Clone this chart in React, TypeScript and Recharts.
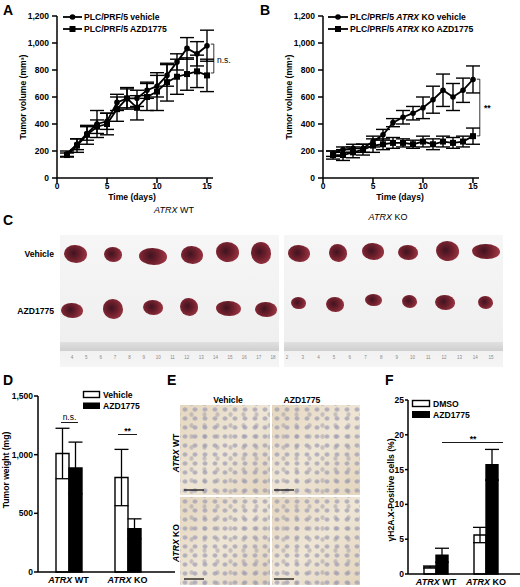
import React from "react";
import { LineChart, Line, BarChart, Bar, XAxis, YAxis, ErrorBar, ReferenceLine } from "recharts";

// Tumor growth curves (mean ± SEM), days 1..15
const DAYS = [1, 2, 3, 4, 5, 6, 7, 8, 9, 10, 11, 12, 13, 14, 15];

const WT_VEHICLE = [180, 250, 330, 400, 420, 560, 590, 590, 650, 680, 760, 860, 960, 920, 980];
const WT_VEHICLE_SEM = [20, 40, 50, 100, 60, 60, 80, 60, 60, 80, 80, 60, 80, 90, 115];
const WT_AZD = [170, 240, 320, 380, 400, 510, 590, 520, 600, 640, 710, 750, 770, 790, 760];
const WT_AZD_SEM = [15, 50, 70, 50, 80, 90, 70, 90, 100, 140, 140, 130, 120, 120, 120];

const KO_VEHICLE = [180, 210, 220, 220, 270, 320, 410, 450, 480, 520, 580, 650, 600, 650, 730];
const KO_VEHICLE_SEM = [20, 20, 30, 30, 40, 40, 30, 50, 50, 80, 100, 120, 100, 90, 100];
const KO_AZD = [170, 170, 190, 210, 240, 250, 260, 260, 250, 270, 250, 270, 260, 270, 310];
const KO_AZD_SEM = [30, 40, 40, 40, 50, 40, 40, 30, 30, 40, 40, 40, 40, 40, 60];

// Tumor weight (mg)
const GROUPS = ["ATRX WT", "ATRX KO"];
const WEIGHT_VEHICLE = [1010, 805];
const WEIGHT_VEHICLE_SEM = [215, 240];
const WEIGHT_AZD = [887, 368];
const WEIGHT_AZD_SEM = [220, 85];

// gammaH2A.X positive cells (%)
const H2AX_DMSO = [1.0, 5.6];
const H2AX_DMSO_SEM = [0.15, 1.1];
const H2AX_AZD = [2.7, 15.7];
const H2AX_AZD_SEM = [1.0, 2.2];

const VOLUME_TICKS = [0, 200, 400, 600, 800, 1000, 1200];
const DAY_TICKS = [0, 5, 10, 15];
const WEIGHT_TICKS = [0, 500, 1000, 1500];
const H2AX_TICKS = [0, 5, 10, 15, 20, 25];

const FONT = "'Liberation Sans', Arial, sans-serif";
const tickStyle = { fill: "#000", fontSize: 8.5, fontWeight: 700, fontFamily: FONT };

const growthA = DAYS.map((d, i) => ({
  day: d,
  veh: WT_VEHICLE[i],
  vehErr: WT_VEHICLE_SEM[i],
  azd: WT_AZD[i],
  azdErr: WT_AZD_SEM[i],
}));
const growthB = DAYS.map((d, i) => ({
  day: d,
  veh: KO_VEHICLE[i],
  vehErr: KO_VEHICLE_SEM[i],
  azd: KO_AZD[i],
  azdErr: KO_AZD_SEM[i],
}));
const weightData = GROUPS.map((g, i) => ({
  group: g,
  veh: WEIGHT_VEHICLE[i],
  vehErr: WEIGHT_VEHICLE_SEM[i],
  azd: WEIGHT_AZD[i],
  azdErr: WEIGHT_AZD_SEM[i],
}));
const h2axData = GROUPS.map((g, i) => ({
  group: g,
  dmso: H2AX_DMSO[i],
  dmsoErr: H2AX_DMSO_SEM[i],
  azd: H2AX_AZD[i],
  azdErr: H2AX_AZD_SEM[i],
}));

const circleDot = (p: any) =>
  p.cx == null ? null : <circle key={`c${p.index}`} cx={p.cx} cy={p.cy} r={2.8} fill="#000" />;
const squareDot = (p: any) =>
  p.cx == null ? null : (
    <rect key={`s${p.index}`} x={p.cx - 3} y={p.cy - 3} width={6} height={6} fill="#000" />
  );

const fmt = (v: number) => v.toLocaleString("en-US");

const CatTick = (p: any) => {
  const [gene, kind] = String(p.payload.value).split(" ");
  return (
    <text x={p.x} y={p.y} dy="0.71em" textAnchor="middle" {...tickStyle} fontSize={9}>
      <tspan fontStyle="italic">{gene}</tspan>
      {" " + kind}
    </text>
  );
};

function Growth({ data, left, bracket }: { data: any[]; left: number; bracket: [number, number] }) {
  const bx = 15.68;
  const bx0 = 15.38;
  return (
    <div style={{ position: "absolute", left, top: 0 }}>
      <LineChart width={260} height={210} data={data} margin={{ top: 16, right: 47, bottom: 12, left: 27 }}>
        <XAxis
          dataKey="day"
          type="number"
          domain={[0, 15.6]}
          ticks={DAY_TICKS}
          interval={0}
          allowDataOverflow
          height={20}
          tickSize={5}
          tickMargin={0}
          stroke="#000"
          strokeWidth={1.5}
          tick={tickStyle}
        />
        <YAxis
          domain={[0, 1200]}
          ticks={VOLUME_TICKS}
          interval={0}
          tickFormatter={fmt}
          width={30}
          tickSize={5}
          tickMargin={3}
          stroke="#000"
          strokeWidth={1.5}
          tick={tickStyle}
        />
        <Line dataKey="veh" stroke="#000" strokeWidth={1.8} dot={circleDot} isAnimationActive={false}>
          <ErrorBar dataKey="vehErr" direction="y" width={7} stroke="#000" strokeWidth={1.4} />
        </Line>
        <Line dataKey="azd" stroke="#000" strokeWidth={1.8} dot={squareDot} isAnimationActive={false}>
          <ErrorBar dataKey="azdErr" direction="y" width={7} stroke="#000" strokeWidth={1.4} />
        </Line>
        <ReferenceLine segment={[{ x: bx, y: bracket[0] }, { x: bx, y: bracket[1] }]} ifOverflow="visible" stroke="#000" strokeWidth={0.8} />
        <ReferenceLine segment={[{ x: bx0, y: bracket[0] }, { x: bx, y: bracket[0] }]} ifOverflow="visible" stroke="#000" strokeWidth={0.8} />
        <ReferenceLine segment={[{ x: bx0, y: bracket[1] }, { x: bx, y: bracket[1] }]} ifOverflow="visible" stroke="#000" strokeWidth={0.8} />
      </LineChart>
    </div>
  );
}

// photo panel C: tumor outlines (centre x, centre y, width, height)
const TUMORS = [
  [75, 254, 23, 18], [113, 254, 18, 15], [153, 256, 28, 17], [192, 255, 22, 18], [227, 252, 23, 20], [261, 253, 20, 22],
  [72, 310, 22, 15], [113, 309, 20, 20], [153, 307, 20, 15], [189, 307, 18, 18], [228, 308, 25, 15], [266, 309, 22, 15],
  [299, 253, 22, 17], [338, 253, 18, 18], [373, 251, 22, 17], [408, 252, 20, 15], [447, 251, 23, 20], [486, 251, 28, 15],
  [298, 303, 15, 12], [335, 304, 18, 15], [373, 300, 17, 12], [409, 301, 15, 13], [445, 302, 20, 15], [485, 302, 15, 13],
];
const RULER_LEFT = ["4", "5", "6", "7", "8", "9", "10", "11", "12", "13", "14", "15", "16", "17", "18"];
const RULER_RIGHT = ["2", "3", "4", "5", "6", "7", "8", "9", "10", "11", "12", "13", "14", "15"];

const tissue = {
  position: "absolute" as const,
  backgroundColor: "#eadfcb",
  backgroundImage:
    "radial-gradient(ellipse 3px 2.6px at 50% 50%, rgba(150,150,175,0.75) 0, rgba(150,150,175,0.55) 70%, rgba(150,150,175,0) 100%), radial-gradient(ellipse 2.6px 3px at 50% 50%, rgba(160,155,170,0.6) 0, rgba(160,155,170,0.4) 70%, rgba(0,0,0,0) 100%), linear-gradient(135deg, rgba(220,200,170,0.35), rgba(255,255,255,0.2) 50%, rgba(215,195,165,0.35))",
  backgroundSize: "10px 9px, 13px 11px, 100% 100%",
  backgroundPosition: "0 0, 5px 4px, 0 0",
};

export default function App() {
  const T = { fontFamily: FONT, fill: "#000" };
  return (
    <div style={{ position: "relative", width: 520, height: 587, background: "#fff", fontFamily: FONT, overflow: "hidden" }}>
      <style>{`body{margin:0}`}</style>

      <Growth data={growthA} left={0} bracket={[992, 778]} />
      <Growth data={growthB} left={266} bracket={[732, 312]} />

      {/* photos C */}
      {[60, 284].map((x) => (
        <div key={x} style={{ position: "absolute", left: x, top: 235, width: 219, height: 132, background: "linear-gradient(180deg,#f6f6f6,#efefef 80%,#f5f5f5)" }}>
          <div style={{ position: "absolute", left: 0, right: 0, top: 107, height: 9, background: "linear-gradient(180deg,#e0e0e0,#cfcfcf)" }} />
        </div>
      ))}
      {TUMORS.map(([x, y, w, h], i) => (
        <div
          key={i}
          style={{
            position: "absolute",
            left: x - w / 2,
            top: y - h / 2,
            width: w,
            height: h,
            borderRadius: "48% 52% 46% 54%",
            background: "radial-gradient(circle at 42% 45%, #3f1420 0%, #6e1f2c 40%, #9a3542 80%, #b2525c 100%)",
          }}
        />
      ))}

      {/* IHC E */}
      <div style={{ ...tissue, left: 180, top: 405, width: 90, height: 90 }} />
      <div style={{ ...tissue, left: 272, top: 405, width: 88, height: 90 }} />
      <div style={{ ...tissue, left: 180, top: 497, width: 90, height: 88 }} />
      <div style={{ ...tissue, left: 272, top: 497, width: 88, height: 88 }} />

      <div style={{ position: "absolute", left: 0, top: 380 }}>
        <BarChart width={180} height={207} data={weightData} margin={{ top: 16, right: 5, bottom: 0, left: 8 }} barGap={0} barSize={13}>
          <XAxis dataKey="group" interval={0} height={15} padding={{ left: 1, right: 18 }} tickLine={false} tickSize={4} tickMargin={1} stroke="#000" strokeWidth={1.5} tick={<CatTick />} />
          <YAxis domain={[0, 1500]} ticks={WEIGHT_TICKS} interval={0} tickFormatter={fmt} width={30} tickSize={4} tickMargin={1} stroke="#000" strokeWidth={1.5} tick={tickStyle} />
          <Bar dataKey="veh" fill="#fff" stroke="#000" strokeWidth={1.4} isAnimationActive={false}>
            <ErrorBar dataKey="vehErr" direction="y" width={7} stroke="#000" strokeWidth={1.3} />
          </Bar>
          <Bar dataKey="azd" fill="#000" stroke="#000" strokeWidth={1.4} isAnimationActive={false}>
            <ErrorBar dataKey="azdErr" direction="y" width={7} stroke="#000" strokeWidth={1.3} />
          </Bar>
        </BarChart>
      </div>

      <div style={{ position: "absolute", left: 350, top: 380 }}>
        <BarChart width={170} height={207} data={h2axData} margin={{ top: 20, right: 0, bottom: 0, left: 30 }} barGap={0} barSize={12}>
          <XAxis dataKey="group" interval={0} height={13} padding={{ left: 3, right: 9 }} tickLine={false} tickSize={4} tickMargin={1} stroke="#000" strokeWidth={1.5} tick={<CatTick />} />
          <YAxis domain={[0, 25]} ticks={H2AX_TICKS} interval={0} width={28} tickSize={3} tickMargin={1} stroke="#000" strokeWidth={1.5} tick={tickStyle} />
          <Bar dataKey="dmso" fill="#fff" stroke="#000" strokeWidth={1.4} isAnimationActive={false}>
            <ErrorBar dataKey="dmsoErr" direction="y" width={7} stroke="#000" strokeWidth={1.3} />
          </Bar>
          <Bar dataKey="azd" fill="#000" stroke="#000" strokeWidth={1.4} isAnimationActive={false}>
            <ErrorBar dataKey="azdErr" direction="y" width={7} stroke="#000" strokeWidth={1.3} />
          </Bar>
        </BarChart>
      </div>

      <svg width={520} height={587} style={{ position: "absolute", left: 0, top: 0, pointerEvents: "none" }}>
        {/* panel letters */}
        <g {...T} fontSize={14} fontWeight={700}>
          <text x={3} y={15}>A</text>
          <text x={260} y={15}>B</text>
          <text x={3} y={225}>C</text>
          <text x={3} y={385}>D</text>
          <text x={167} y={385}>E</text>
          <text x={385} y={385}>F</text>
        </g>

        {/* A / B legends and titles */}
        <g {...T} fontSize={8.6} fontWeight={700}>
          <line x1={63} x2={82} y1={17} y2={17} stroke="#000" strokeWidth={1.8} />
          <circle cx={72.5} cy={17} r={2.8} />
          <text x={84} y={20}>PLC/PRF/5 vehicle</text>
          <line x1={63} x2={82} y1={29} y2={29} stroke="#000" strokeWidth={1.8} />
          <rect x={69.5} y={26} width={6} height={6} />
          <text x={84} y={32}>PLC/PRF/5 AZD1775</text>

          <line x1={328} x2={348} y1={17} y2={17} stroke="#000" strokeWidth={1.8} />
          <circle cx={338} cy={17} r={2.8} />
          <text x={350} y={20}>PLC/PRF/5 <tspan fontStyle="italic">ATRX</tspan> KO vehicle</text>
          <line x1={328} x2={348} y1={29} y2={29} stroke="#000" strokeWidth={1.8} />
          <rect x={335} y={26} width={6} height={6} />
          <text x={350} y={32}>PLC/PRF/5 <tspan fontStyle="italic">ATRX</tspan> KO AZD1775</text>

          <text x={132} y={200} textAnchor="middle">Time (days)</text>
          <text x={400} y={200} textAnchor="middle">Time (days)</text>
          <text transform="translate(26,97) rotate(-90)" textAnchor="middle">Tumor volume (mm³)</text>
          <text transform="translate(291.5,97) rotate(-90)" textAnchor="middle">Tumor volume (mm³)</text>
        </g>
        <text {...T} x={217} y={63} fontSize={8.5}>n.s.</text>
        <text {...T} x={484} y={111} fontSize={8.5} fontWeight={700}>**</text>

        {/* C labels */}
        <text {...T} x={174} y={213} fontSize={9} textAnchor="middle">
          <tspan fontStyle="italic">ATRX</tspan> WT
        </text>
        <text {...T} x={388} y={220} fontSize={9} textAnchor="middle">
          <tspan fontStyle="italic">ATRX</tspan> KO
        </text>
        <text {...T} x={54} y={257} fontSize={8.6} fontWeight={700} textAnchor="end">Vehicle</text>
        <text {...T} x={54} y={314} fontSize={8.6} fontWeight={700} textAnchor="end">AZD1775</text>
        <g fontFamily={FONT} fontSize={4.5} fill="#888" textAnchor="middle">
          {RULER_LEFT.map((n, i) => (
            <text key={`l${n}`} x={72 + (i * 201) / 14} y={359}>{n}</text>
          ))}
          {RULER_RIGHT.map((n, i) => (
            <text key={`r${n}`} x={287 + (i * 204) / 13} y={359}>{n}</text>
          ))}
        </g>

        {/* D legend / annotations */}
        <g {...T} fontSize={8.6} fontWeight={700}>
          <rect x={83.5} y={391.5} width={16} height={6} fill="#fff" stroke="#000" strokeWidth={1.4} />
          <rect x={83} y={402.5} width={17} height={6.5} fill="#000" />
          <text x={103} y={398}>Vehicle</text>
          <text x={103} y={409}>AZD1775</text>
          <text x={69.5} y={420} textAnchor="middle" fontWeight={400} fontSize={8.5}>n.s.</text>
          <text x={127.5} y={434} textAnchor="middle">**</text>
          <text transform="translate(9,470) rotate(-90)" textAnchor="middle">Tumor weight (mg)</text>
        </g>
        <line x1={61} x2={78} y1={422.5} y2={422.5} stroke="#000" strokeWidth={0.9} />
        <line x1={118} x2={137} y1={434.5} y2={434.5} stroke="#000" strokeWidth={0.9} />

        {/* E labels */}
        <g {...T} fontSize={8.6} fontWeight={700}>
          <text x={228} y={403} textAnchor="middle">Vehicle</text>
          <text x={302} y={403} textAnchor="middle">AZD1775</text>
          <text transform="translate(179,453) rotate(-90)" textAnchor="middle">
            <tspan fontStyle="italic">ATRX</tspan> WT
          </text>
          <text transform="translate(179,543) rotate(-90)" textAnchor="middle">
            <tspan fontStyle="italic">ATRX</tspan> KO
          </text>
        </g>
        <g stroke="#111" strokeWidth={1.3}>
          <line x1={184} x2={204} y1={490} y2={490} />
          <line x1={274} x2={294} y1={490} y2={490} />
          <line x1={184} x2={204} y1={579} y2={579} />
          <line x1={274} x2={294} y1={579} y2={579} />
        </g>

        {/* F legend / annotations */}
        <g {...T} fontSize={8.6} fontWeight={700}>
          <rect x={412.5} y={400.5} width={17} height={6} fill="#fff" stroke="#000" strokeWidth={1.4} />
          <rect x={412} y={411} width={18} height={7} fill="#000" />
          <text x={433} y={407}>DMSO</text>
          <text x={433} y={417.5}>AZD1775</text>
          <text x={473} y={442} textAnchor="middle">**</text>
          <text transform="translate(393.5,490) rotate(-90)" textAnchor="middle">γH2A.X-Positive cells (%)</text>
        </g>
        <line x1={442} x2={503} y1={442.5} y2={442.5} stroke="#000" strokeWidth={0.9} />
      </svg>
    </div>
  );
}
